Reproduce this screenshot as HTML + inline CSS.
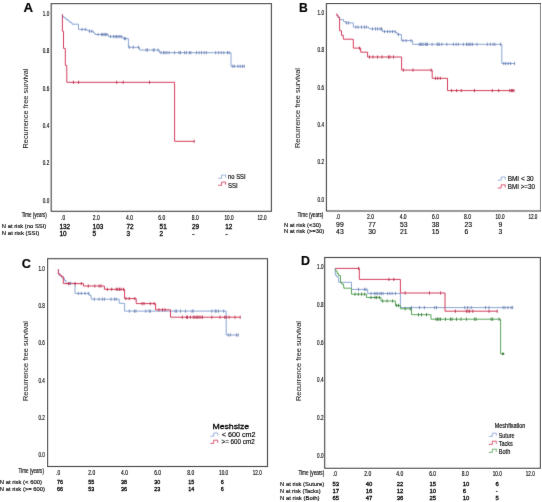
<!DOCTYPE html>
<html><head><meta charset="utf-8"><title>Kaplan-Meier curves</title>
<style>
html,body{margin:0;padding:0;background:#fff;}
body{width:542px;height:502px;overflow:hidden;}
text{stroke:#000;stroke-width:0.16px;}
text.n{stroke-width:0.3px;}
text.m{stroke-width:0.12px;}
text.t{stroke:none;}
svg{display:block;font-family:"Liberation Sans",sans-serif;}
</style></head><body>
<svg width="542" height="502" viewBox="0 0 542 502">
<defs><filter id="bl" x="0" y="0" width="100%" height="100%" color-interpolation-filters="sRGB"><feConvolveMatrix order="3" kernelMatrix="1 9 1 9 81 9 1 9 1" divisor="121" edgeMode="none"/></filter>
<filter id="bt" x="0" y="0" width="100%" height="100%" color-interpolation-filters="sRGB"><feConvolveMatrix order="3" kernelMatrix="1 14 1 14 196 14 1 14 1" divisor="256" edgeMode="none"/></filter></defs>
<rect width="542" height="502" fill="#fff"/>
<g fill="none" filter="url(#bl)">
<rect x="51.2" y="3.6" width="220.2" height="207.7" fill="none" stroke="#3c3c3c" stroke-width="1.05"/>
<path d="M62.4,14.3V16.5H64V18H66V19.5H68V21H70V22.6H72V24.2H78.5V29.4H87V30.4H88.5V31.2H93.5V32.9H95V34.5H108.3V36.6H122.9V38.6H128.4V47.3H139.5V50.0H159.4V52.7H231V66.3H244.3" stroke="#8ba4d4" stroke-width="1.0" fill="none"/>
<path d="M62.4,14.3V31.2H63.5V48.4H65.3V65.4H66.8V82.3H174.6V141.3H194.2" stroke="#d43d5c" stroke-width="1.0" fill="none"/>
<path d="M82,27.8V31.0 M85.3,27.8V31.0 M89.5,29.6V32.8 M91.8,29.6V32.8 M98.1,32.9V36.1 M101.4,32.9V36.1 M102.8,32.9V36.1 M104.1,32.9V36.1 M105.5,32.9V36.1 M106.9,32.9V36.1 M110.6,35.0V38.2 M113.4,35.0V38.2 M115.2,35.0V38.2 M116.6,35.0V38.2 M118,35.0V38.2 M119.8,35.0V38.2 M121.2,35.0V38.2 M124.4,37.0V40.2 M125.6,37.0V40.2 M129.3,45.7V48.9 M133.2,45.7V48.9 M138.4,45.7V48.9 M146.1,48.4V51.6 M147.6,48.4V51.6 M153.2,48.4V51.6 M154.3,48.4V51.6 M158,48.4V51.6 M161,51.1V54.3 M163.5,51.1V54.3 M165,51.1V54.3 M166.9,51.1V54.3 M169.1,51.1V54.3 M174.6,51.1V54.3 M179,51.1V54.3 M180.5,51.1V54.3 M184.6,51.1V54.3 M186.4,51.1V54.3 M189.4,51.1V54.3 M190.8,51.1V54.3 M196.5,51.1V54.3 M199.1,51.1V54.3 M201.6,51.1V54.3 M204.2,51.1V54.3 M206.4,51.1V54.3 M215.7,51.1V54.3 M218.6,51.1V54.3 M221.2,51.1V54.3 M223.8,51.1V54.3 M227.5,51.1V54.3 M229,51.1V54.3 M232.8,64.7V67.9 M234.3,64.7V67.9 M238,64.7V67.9 M240.2,64.7V67.9 M242.4,64.7V67.9 M244.3,64.7V67.9" stroke="#6f85b5" stroke-width="0.9" fill="none"/>
<path d="M73.4,80.7V83.9 M78.6,80.7V83.9 M116.7,80.7V83.9 M123.2,80.7V83.9 M149.5,80.7V83.9 M194.2,139.7V142.9" stroke="#b8304e" stroke-width="0.9" fill="none"/>
<path d="M218.2,178.3H221.6V175.1H225.6V177.7" stroke="#8ba4d4" stroke-width="0.85" fill="none"/>
<path d="M218.2,185.3H221.6V182.1H225.6V184.7" stroke="#d43d5c" stroke-width="0.85" fill="none"/>
<rect x="326.4" y="3.5" width="214.5" height="207.5" fill="none" stroke="#3c3c3c" stroke-width="1.05"/>
<path d="M336.9,14.6V15.5H338V17H339.5V19.6H343.5V21.5H345.5V22.9H353.3V27.1H368.7V28.3H370.1V28.9H382.4V31.6H395.7V32.7H397.2V34.5H401.4V40.6H412.7V44.3H501.8V63.5H514.6" stroke="#8ba4d4" stroke-width="1.0" fill="none"/>
<path d="M336.9,13.4V15.5H338V17.5H339.6V30.8H341.5V35.3H343.3V39.2H353.3V48.1H360.7V52.2H367.6V57H401.6V70.1H432.2V78.3H447.5V90.6H514" stroke="#d43d5c" stroke-width="1.0" fill="none"/>
<path d="M346.6,21.3V24.5 M348.6,21.3V24.5 M355.9,25.5V28.7 M358.1,25.5V28.7 M361.5,25.5V28.7 M364.4,25.5V28.7 M366.3,25.5V28.7 M372.5,27.3V30.5 M375.5,27.3V30.5 M377.5,27.3V30.5 M380,27.3V30.5 M381.5,27.3V30.5 M384.5,30.0V33.2 M387.5,30.0V33.2 M390,30.0V33.2 M392.5,30.0V33.2 M395,30.0V33.2 M398.5,32.9V36.1 M403,39.0V42.2 M406,39.0V42.2 M411,39.0V42.2 M419.2,42.7V45.9 M420.6,42.7V45.9 M421.8,42.7V45.9 M423.1,42.7V45.9 M425.2,42.7V45.9 M426.4,42.7V45.9 M427.5,42.7V45.9 M432.1,42.7V45.9 M437.2,42.7V45.9 M438.1,42.7V45.9 M439.3,42.7V45.9 M441.8,42.7V45.9 M446.9,42.7V45.9 M453.4,42.7V45.9 M456.1,42.7V45.9 M458.3,42.7V45.9 M463.4,42.7V45.9 M466.5,42.7V45.9 M468,42.7V45.9 M469.3,42.7V45.9 M470.9,42.7V45.9 M472.6,42.7V45.9 M476.9,42.7V45.9 M487.3,42.7V45.9 M490.3,42.7V45.9 M493.1,42.7V45.9 M494.9,42.7V45.9 M500.6,42.7V45.9 M503.8,61.9V65.1 M505.8,61.9V65.1 M508.2,61.9V65.1 M510.6,61.9V65.1 M514.6,61.9V65.1" stroke="#6f85b5" stroke-width="0.9" fill="none"/>
<path d="M359.5,46.5V49.7 M369.5,55.4V58.6 M373,55.4V58.6 M377.5,55.4V58.6 M382,55.4V58.6 M388.5,55.4V58.6 M390,55.4V58.6 M393.5,55.4V58.6 M403.4,68.5V71.7 M413,68.5V71.7 M431.1,68.5V71.7 M435.5,76.7V79.9 M437.7,76.7V79.9 M440.3,76.7V79.9 M451.6,89.0V92.2 M456.6,89.0V92.2 M461.3,89.0V92.2 M474.5,89.0V92.2 M492.3,89.0V92.2 M498.7,89.0V92.2 M509.8,89.0V92.2 M511.4,89.0V92.2 M512.7,89.0V92.2 M514,89.0V92.2" stroke="#b8304e" stroke-width="0.9" fill="none"/>
<path d="M497.8,180.2H501.2V177.0H505.2V179.6" stroke="#8ba4d4" stroke-width="0.85" fill="none"/>
<path d="M497.8,188.0H501.2V184.8H505.2V187.4" stroke="#d43d5c" stroke-width="0.85" fill="none"/>
<rect x="47.6" y="258.7" width="219.9" height="207.8" fill="none" stroke="#3c3c3c" stroke-width="1.05"/>
<path d="M58.4,269.2V273.5H60V276H62V278.2H64.5V280.5H66V283.3H75V293.4H89.4V295.5H91.2V299.2H119.2V303.3H124.6V311.1H226.2V335H238.5" stroke="#8ba4d4" stroke-width="1.0" fill="none"/>
<path d="M58.4,269.2V274.3H60V275.5H61.5V276.6H63.3V283.6H83.5V286.0H104.4V289.3H124.6V298.6H136.2V303.6H155.6V309.8H170.5V317.2H240.2" stroke="#d43d5c" stroke-width="1.0" fill="none"/>
<path d="M68.4,282.0V285.2 M69.9,282.0V285.2 M75.2,282.0V285.2 M81.3,282.0V285.2 M88.3,284.4V287.6 M94.8,284.4V287.6 M99.2,284.4V287.6 M101,284.4V287.6 M107.3,287.7V290.9 M111.7,287.7V290.9 M116.3,287.7V290.9 M117.8,287.7V290.9 M119.5,287.7V290.9 M121,287.7V290.9 M123.5,287.7V290.9 M125.9,297.0V300.2 M129.2,297.0V300.2 M134.8,297.0V300.2 M142.1,302.0V305.2 M144,302.0V305.2 M150.3,302.0V305.2 M154.1,302.0V305.2 M158.9,308.2V311.4 M162.5,308.2V311.4 M165,308.2V311.4 M182.3,315.6V318.8 M186.5,315.6V318.8 M187.5,315.6V318.8 M190.4,315.6V318.8 M193.2,315.6V318.8 M194.7,315.6V318.8 M196.3,315.6V318.8 M197.8,315.6V318.8 M199.1,315.6V318.8 M200.9,315.6V318.8 M202.5,315.6V318.8 M211.8,315.6V318.8 M220,315.6V318.8 M224.7,315.6V318.8 M226.2,315.6V318.8 M229.1,315.6V318.8 M235,315.6V318.8 M240.2,315.6V318.8" stroke="#b8304e" stroke-width="0.9" fill="none"/>
<path d="M70.5,281.7V284.9 M78.4,291.8V295.0 M81.3,291.8V295.0 M85,291.8V295.0 M88.3,291.8V295.0 M94.3,297.6V300.8 M99,297.6V300.8 M102.4,297.6V300.8 M104.4,297.6V300.8 M111,297.6V300.8 M114.6,297.6V300.8 M116.3,297.6V300.8 M129.4,309.5V312.7 M134.4,309.5V312.7 M135.9,309.5V312.7 M145.8,309.5V312.7 M149.2,309.5V312.7 M150.3,309.5V312.7 M175.1,309.5V312.7 M176.6,309.5V312.7 M180.5,309.5V312.7 M185.4,309.5V312.7 M192.1,309.5V312.7 M193.2,309.5V312.7 M211.8,309.5V312.7 M215.2,309.5V312.7 M216.2,309.5V312.7 M218.5,309.5V312.7 M223.7,309.5V312.7 M228.2,333.4V336.6 M230.3,333.4V336.6 M236.5,333.4V336.6 M238.2,333.4V336.6" stroke="#6f85b5" stroke-width="0.9" fill="none"/>
<path d="M210.3,436.2H213.7V433.0H217.7V435.6" stroke="#8ba4d4" stroke-width="0.85" fill="none"/>
<path d="M210.3,443.4H213.7V440.2H217.7V442.8" stroke="#d43d5c" stroke-width="0.85" fill="none"/>
<rect x="324.7" y="257.5" width="215.7" height="210.8" fill="none" stroke="#3c3c3c" stroke-width="1.05"/>
<path d="M335.3,268.4V275.2H336.8V277H338.7V282.3H351.5V289.4H367.7V293.5H400.4V307.6H513" stroke="#8ba4d4" stroke-width="1.0" fill="none"/>
<path d="M335.3,268.4V270.8H337.1V273.5H338.5V275.5H340.5V282.3H341.6V284H343.5V286H343.8V288.2H351.5V294.2H366.6V297.5H381V301H395.4V305.5H400.4V308.8H411.5V314.7H431V319.2H500.6V353.8H502.8" stroke="#5aa55a" stroke-width="1.0" fill="none"/>
<path d="M335.3,268.4H359.3V279.4H400.4V293H445V311.2H497.2" stroke="#d43d5c" stroke-width="1.0" fill="none"/>
<rect x="501.9" y="352.7" width="2.3" height="2.2" fill="#3a7d3a"/>
<path d="M358.6,266.8V270.0 M388.9,277.8V281.0 M393.8,277.8V281.0 M405.2,291.4V294.6 M429.5,291.4V294.6 M440.6,291.4V294.6 M455.4,309.6V312.8 M466.4,309.6V312.8 M468,309.6V312.8 M469.6,309.6V312.8 M472.8,309.6V312.8 M489,309.6V312.8 M497.2,309.6V312.8" stroke="#b8304e" stroke-width="0.9" fill="none"/>
<path d="M358.5,287.8V291.0 M364.4,287.8V291.0 M366,287.8V291.0 M371,291.9V295.1 M374.3,291.9V295.1 M376,291.9V295.1 M377.7,291.9V295.1 M379.9,291.9V295.1 M381.5,291.9V295.1 M383.2,291.9V295.1 M387.6,291.9V295.1 M389.8,291.9V295.1 M392.1,291.9V295.1 M395.4,291.9V295.1 M411.5,306.0V309.2 M419.5,306.0V309.2 M424.4,306.0V309.2 M434.7,306.0V309.2 M436.5,306.0V309.2 M464.8,306.0V309.2 M467.7,306.0V309.2 M471.2,306.0V309.2 M485.5,306.0V309.2 M489,306.0V309.2 M503.1,306.0V309.2 M505,306.0V309.2 M507.9,306.0V309.2 M511.1,306.0V309.2 M512.7,306.0V309.2" stroke="#6f85b5" stroke-width="0.9" fill="none"/>
<path d="M355,292.6V295.8 M358.3,292.6V295.8 M361.6,292.6V295.8 M364.7,292.6V295.8 M371,295.9V299.1 M374.9,295.9V299.1 M376.6,295.9V299.1 M379.3,295.9V299.1 M382.7,299.4V302.6 M387.1,299.4V302.6 M392.6,299.4V302.6 M396.5,303.9V307.1 M398.5,303.9V307.1 M405.2,307.2V310.4 M410.3,307.2V310.4 M418.5,313.1V316.3 M421.5,313.1V316.3 M426.5,313.1V316.3 M436,317.6V320.8 M437.5,317.6V320.8 M439,317.6V320.8 M440.5,317.6V320.8 M445.5,317.6V320.8 M450.5,317.6V320.8 M452,317.6V320.8 M456.5,317.6V320.8 M461,317.6V320.8 M466.4,317.6V320.8 M474.7,317.6V320.8 M476,317.6V320.8 M491.1,317.6V320.8 M492.7,317.6V320.8 M499.1,317.6V320.8" stroke="#3a7d3a" stroke-width="0.9" fill="none"/>
<path d="M488.9,436.4H492.3V433.2H496.3V435.8" stroke="#8ba4d4" stroke-width="0.85" fill="none"/>
<path d="M488.9,444.4H492.3V441.2H496.3V443.8" stroke="#d43d5c" stroke-width="0.85" fill="none"/>
<path d="M488.9,452.4H492.3V449.2H496.3V451.8" stroke="#5aa55a" stroke-width="0.85" fill="none"/>
</g>
<g fill="#000" filter="url(#bt)">
<text x="23.6" y="12.3" font-size="13.4" textLength="9.6" lengthAdjust="spacingAndGlyphs" font-weight="bold">A</text>
<text x="49.2" y="15.9" font-size="7.0" text-anchor="end" textLength="6.4" lengthAdjust="spacingAndGlyphs">1.0</text>
<text x="49.2" y="53.26" font-size="7.0" text-anchor="end" textLength="6.4" lengthAdjust="spacingAndGlyphs">0.8</text>
<text x="49.2" y="90.62" font-size="7.0" text-anchor="end" textLength="6.4" lengthAdjust="spacingAndGlyphs">0.6</text>
<text x="49.2" y="127.98" font-size="7.0" text-anchor="end" textLength="6.4" lengthAdjust="spacingAndGlyphs">0.4</text>
<text x="49.2" y="165.34" font-size="7.0" text-anchor="end" textLength="6.4" lengthAdjust="spacingAndGlyphs">0.2</text>
<text x="49.2" y="202.7" font-size="7.0" text-anchor="end" textLength="6.4" lengthAdjust="spacingAndGlyphs">0.0</text>
<text class="t" x="0" y="0" font-size="7.4" text-anchor="middle" textLength="80" lengthAdjust="spacingAndGlyphs" transform="translate(28.2,108.5) rotate(-90)">Recurrence free survival</text>
<text x="63.1" y="219.9" font-size="6.8" text-anchor="middle" textLength="4.0" lengthAdjust="spacingAndGlyphs">.0</text>
<text x="96.3" y="219.9" font-size="6.8" text-anchor="middle" textLength="6.9" lengthAdjust="spacingAndGlyphs">2.0</text>
<text x="129.5" y="219.9" font-size="6.8" text-anchor="middle" textLength="6.9" lengthAdjust="spacingAndGlyphs">4.0</text>
<text x="161.8" y="219.9" font-size="6.8" text-anchor="middle" textLength="6.9" lengthAdjust="spacingAndGlyphs">6.0</text>
<text x="195.3" y="219.9" font-size="6.8" text-anchor="middle" textLength="6.9" lengthAdjust="spacingAndGlyphs">8.0</text>
<text x="229" y="219.9" font-size="6.8" text-anchor="middle" textLength="9.0" lengthAdjust="spacingAndGlyphs">10.0</text>
<text x="262" y="219.9" font-size="6.8" text-anchor="middle" textLength="9.0" lengthAdjust="spacingAndGlyphs">12.0</text>
<text x="46.8" y="217.2" font-size="6.8" text-anchor="end" textLength="25" lengthAdjust="spacingAndGlyphs">Time (years)</text>
<text x="1.8" y="227.9" font-size="6.2" textLength="44.5" lengthAdjust="spacingAndGlyphs">N at risk (no SSI)</text>
<text x="1.8" y="234.9" font-size="6.2" textLength="37.5" lengthAdjust="spacingAndGlyphs">N at risk (SSI)</text>
<text x="59.5" y="228.6" font-size="6.5" class="n" textLength="10.65" lengthAdjust="spacingAndGlyphs">132</text>
<text x="92.6" y="228.6" font-size="6.5" class="n" textLength="10.65" lengthAdjust="spacingAndGlyphs">103</text>
<text x="126.4" y="228.6" font-size="6.5" class="n" textLength="7.1" lengthAdjust="spacingAndGlyphs">72</text>
<text x="159.6" y="228.6" font-size="6.5" class="n" textLength="7.1" lengthAdjust="spacingAndGlyphs">51</text>
<text x="192" y="228.6" font-size="6.5" class="n" textLength="7.1" lengthAdjust="spacingAndGlyphs">29</text>
<text x="225.2" y="228.6" font-size="6.5" class="n" textLength="7.1" lengthAdjust="spacingAndGlyphs">12</text>
<text x="59.5" y="235.6" font-size="6.5" class="n" textLength="7.1" lengthAdjust="spacingAndGlyphs">10</text>
<text x="92.6" y="235.6" font-size="6.5" class="n" textLength="3.55" lengthAdjust="spacingAndGlyphs">5</text>
<text x="126.4" y="235.6" font-size="6.5" class="n" textLength="3.55" lengthAdjust="spacingAndGlyphs">3</text>
<text x="159.6" y="235.6" font-size="6.5" class="n" textLength="3.55" lengthAdjust="spacingAndGlyphs">2</text>
<text x="192.3" y="235.6" font-size="6.5" class="n">-</text>
<text x="225.5" y="235.6" font-size="6.5" class="n">-</text>
<text x="228" y="178.9" font-size="7.2" textLength="17.6" lengthAdjust="spacingAndGlyphs">no SSI</text>
<text x="228" y="188.4" font-size="7.2" textLength="9.6" lengthAdjust="spacingAndGlyphs">SSI</text>
<text x="299.0" y="11.8" font-size="13.0" textLength="8.8" lengthAdjust="spacingAndGlyphs" font-weight="bold">B</text>
<text x="324.0" y="15.0" font-size="7.0" text-anchor="end" textLength="6.4" lengthAdjust="spacingAndGlyphs">1.0</text>
<text x="324.0" y="52.35" font-size="7.0" text-anchor="end" textLength="6.4" lengthAdjust="spacingAndGlyphs">0.8</text>
<text x="324.0" y="89.7" font-size="7.0" text-anchor="end" textLength="6.4" lengthAdjust="spacingAndGlyphs">0.6</text>
<text x="324.0" y="127.05" font-size="7.0" text-anchor="end" textLength="6.4" lengthAdjust="spacingAndGlyphs">0.4</text>
<text x="324.0" y="164.4" font-size="7.0" text-anchor="end" textLength="6.4" lengthAdjust="spacingAndGlyphs">0.2</text>
<text x="324.0" y="201.75" font-size="7.0" text-anchor="end" textLength="6.4" lengthAdjust="spacingAndGlyphs">0.0</text>
<text class="t" x="0" y="0" font-size="7.4" text-anchor="middle" textLength="80" lengthAdjust="spacingAndGlyphs" transform="translate(300.2,108) rotate(-90)">Recurrence free survival</text>
<text x="337.8" y="218.6" font-size="6.8" text-anchor="middle" textLength="4.0" lengthAdjust="spacingAndGlyphs">.0</text>
<text x="370.5" y="218.6" font-size="6.8" text-anchor="middle" textLength="6.9" lengthAdjust="spacingAndGlyphs">2.0</text>
<text x="403.1" y="218.6" font-size="6.8" text-anchor="middle" textLength="6.9" lengthAdjust="spacingAndGlyphs">4.0</text>
<text x="435.5" y="218.6" font-size="6.8" text-anchor="middle" textLength="6.9" lengthAdjust="spacingAndGlyphs">6.0</text>
<text x="467.5" y="218.6" font-size="6.8" text-anchor="middle" textLength="6.9" lengthAdjust="spacingAndGlyphs">8.0</text>
<text x="500" y="218.6" font-size="6.8" text-anchor="middle" textLength="9.0" lengthAdjust="spacingAndGlyphs">10.0</text>
<text x="532.9" y="218.6" font-size="6.8" text-anchor="middle" textLength="9.0" lengthAdjust="spacingAndGlyphs">12.0</text>
<text x="323.4" y="217.2" font-size="6.8" text-anchor="end" textLength="25.8" lengthAdjust="spacingAndGlyphs">Time (years)</text>
<text x="283.9" y="226.6" font-size="6.2" textLength="37" lengthAdjust="spacingAndGlyphs">N at risk (&lt;30)</text>
<text x="283.9" y="233.1" font-size="6.2" textLength="40.2" lengthAdjust="spacingAndGlyphs">N at risk (&gt;=30)</text>
<text x="336.1" y="226.9" font-size="6.3" class="m" textLength="7.6" lengthAdjust="spacingAndGlyphs">99</text>
<text x="368.2" y="226.9" font-size="6.3" class="m" textLength="7.6" lengthAdjust="spacingAndGlyphs">77</text>
<text x="400" y="226.9" font-size="6.3" class="m" textLength="7.6" lengthAdjust="spacingAndGlyphs">53</text>
<text x="431.8" y="226.9" font-size="6.3" class="m" textLength="7.6" lengthAdjust="spacingAndGlyphs">38</text>
<text x="464.5" y="226.9" font-size="6.3" class="m" textLength="7.6" lengthAdjust="spacingAndGlyphs">23</text>
<text x="498.6" y="226.9" font-size="6.3" class="m" textLength="3.8" lengthAdjust="spacingAndGlyphs">9</text>
<text x="336.1" y="233.8" font-size="6.3" class="m" textLength="7.6" lengthAdjust="spacingAndGlyphs">43</text>
<text x="368.2" y="233.8" font-size="6.3" class="m" textLength="7.6" lengthAdjust="spacingAndGlyphs">30</text>
<text x="400" y="233.8" font-size="6.3" class="m" textLength="7.6" lengthAdjust="spacingAndGlyphs">21</text>
<text x="431.8" y="233.8" font-size="6.3" class="m" textLength="7.6" lengthAdjust="spacingAndGlyphs">15</text>
<text x="464.5" y="233.8" font-size="6.3" class="m" textLength="3.8" lengthAdjust="spacingAndGlyphs">6</text>
<text x="498.6" y="233.8" font-size="6.3" class="m" textLength="3.8" lengthAdjust="spacingAndGlyphs">3</text>
<text x="507.7" y="181.0" font-size="7.2" textLength="26" lengthAdjust="spacingAndGlyphs">BMI &lt; 30</text>
<text x="507.7" y="189.4" font-size="7.2" textLength="27.3" lengthAdjust="spacingAndGlyphs">BMI &gt;=30</text>
<text x="21.8" y="267.9" font-size="13.0" textLength="9.2" lengthAdjust="spacingAndGlyphs" font-weight="bold">C</text>
<text x="44.8" y="270.5" font-size="7.0" text-anchor="end" textLength="6.4" lengthAdjust="spacingAndGlyphs">1.0</text>
<text x="44.8" y="307.86" font-size="7.0" text-anchor="end" textLength="6.4" lengthAdjust="spacingAndGlyphs">0.8</text>
<text x="44.8" y="345.22" font-size="7.0" text-anchor="end" textLength="6.4" lengthAdjust="spacingAndGlyphs">0.6</text>
<text x="44.8" y="382.58" font-size="7.0" text-anchor="end" textLength="6.4" lengthAdjust="spacingAndGlyphs">0.4</text>
<text x="44.8" y="419.94" font-size="7.0" text-anchor="end" textLength="6.4" lengthAdjust="spacingAndGlyphs">0.2</text>
<text x="44.8" y="457.3" font-size="7.0" text-anchor="end" textLength="6.4" lengthAdjust="spacingAndGlyphs">0.0</text>
<text class="t" x="0" y="0" font-size="7.4" text-anchor="middle" textLength="80" lengthAdjust="spacingAndGlyphs" transform="translate(28.2,361) rotate(-90)">Recurrence free survival</text>
<text x="58.1" y="474.7" font-size="6.8" text-anchor="middle" textLength="4.0" lengthAdjust="spacingAndGlyphs">.0</text>
<text x="91.8" y="474.7" font-size="6.8" text-anchor="middle" textLength="6.9" lengthAdjust="spacingAndGlyphs">2.0</text>
<text x="124.5" y="474.7" font-size="6.8" text-anchor="middle" textLength="6.9" lengthAdjust="spacingAndGlyphs">4.0</text>
<text x="157.6" y="474.7" font-size="6.8" text-anchor="middle" textLength="6.9" lengthAdjust="spacingAndGlyphs">6.0</text>
<text x="190.8" y="474.7" font-size="6.8" text-anchor="middle" textLength="6.9" lengthAdjust="spacingAndGlyphs">8.0</text>
<text x="223.6" y="474.7" font-size="6.8" text-anchor="middle" textLength="9.0" lengthAdjust="spacingAndGlyphs">10.0</text>
<text x="257.3" y="474.7" font-size="6.8" text-anchor="middle" textLength="9.0" lengthAdjust="spacingAndGlyphs">12.0</text>
<text x="43.9" y="472.6" font-size="6.8" text-anchor="end" textLength="25.4" lengthAdjust="spacingAndGlyphs">Time (years)</text>
<text x="-0.2" y="483.8" font-size="6.2" textLength="42.2" lengthAdjust="spacingAndGlyphs">N at risk (&lt; 600)</text>
<text x="-0.2" y="491.2" font-size="6.2" textLength="45.2" lengthAdjust="spacingAndGlyphs">N at risk (&gt;= 600)</text>
<text x="56.9" y="483.9" font-size="6.1" class="n" textLength="6.0" lengthAdjust="spacingAndGlyphs">76</text>
<text x="88.3" y="483.9" font-size="6.1" class="n" textLength="6.0" lengthAdjust="spacingAndGlyphs">55</text>
<text x="121.1" y="483.9" font-size="6.1" class="n" textLength="6.0" lengthAdjust="spacingAndGlyphs">38</text>
<text x="154.3" y="483.9" font-size="6.1" class="n" textLength="6.0" lengthAdjust="spacingAndGlyphs">30</text>
<text x="188.3" y="483.9" font-size="6.1" class="n" textLength="6.0" lengthAdjust="spacingAndGlyphs">15</text>
<text x="220.7" y="483.9" font-size="6.1" class="n" textLength="3.0" lengthAdjust="spacingAndGlyphs">6</text>
<text x="56.9" y="491.3" font-size="6.1" class="n" textLength="6.0" lengthAdjust="spacingAndGlyphs">66</text>
<text x="88.3" y="491.3" font-size="6.1" class="n" textLength="6.0" lengthAdjust="spacingAndGlyphs">53</text>
<text x="121.1" y="491.3" font-size="6.1" class="n" textLength="6.0" lengthAdjust="spacingAndGlyphs">36</text>
<text x="154.3" y="491.3" font-size="6.1" class="n" textLength="6.0" lengthAdjust="spacingAndGlyphs">23</text>
<text x="188.3" y="491.3" font-size="6.1" class="n" textLength="6.0" lengthAdjust="spacingAndGlyphs">14</text>
<text x="220.7" y="491.3" font-size="6.1" class="n" textLength="3.0" lengthAdjust="spacingAndGlyphs">6</text>
<text x="212.4" y="429.3" font-size="8.0" class="n" textLength="36.8" lengthAdjust="spacingAndGlyphs">Meshsize</text>
<text x="221.8" y="437.2" font-size="7.2" textLength="33.8" lengthAdjust="spacingAndGlyphs">&lt; 600 cm2</text>
<text x="221.5" y="444.3" font-size="7.2" textLength="33.2" lengthAdjust="spacingAndGlyphs">&gt;= 600 cm2</text>
<text x="301.0" y="265.0" font-size="13.0" textLength="9.0" lengthAdjust="spacingAndGlyphs" font-weight="bold">D</text>
<text x="323.5" y="268.7" font-size="7.0" text-anchor="end" textLength="6.4" lengthAdjust="spacingAndGlyphs">1.0</text>
<text x="323.5" y="306.6" font-size="7.0" text-anchor="end" textLength="6.4" lengthAdjust="spacingAndGlyphs">0.8</text>
<text x="323.5" y="344.5" font-size="7.0" text-anchor="end" textLength="6.4" lengthAdjust="spacingAndGlyphs">0.6</text>
<text x="323.5" y="382.4" font-size="7.0" text-anchor="end" textLength="6.4" lengthAdjust="spacingAndGlyphs">0.4</text>
<text x="323.5" y="420.3" font-size="7.0" text-anchor="end" textLength="6.4" lengthAdjust="spacingAndGlyphs">0.2</text>
<text x="323.5" y="458.2" font-size="7.0" text-anchor="end" textLength="6.4" lengthAdjust="spacingAndGlyphs">0.0</text>
<text class="t" x="0" y="0" font-size="7.4" text-anchor="middle" textLength="80" lengthAdjust="spacingAndGlyphs" transform="translate(300.6,361) rotate(-90)">Recurrence free survival</text>
<text x="334.8" y="476.0" font-size="6.8" text-anchor="middle" textLength="4.0" lengthAdjust="spacingAndGlyphs">.0</text>
<text x="367.8" y="476.0" font-size="6.8" text-anchor="middle" textLength="6.9" lengthAdjust="spacingAndGlyphs">2.0</text>
<text x="399.7" y="476.0" font-size="6.8" text-anchor="middle" textLength="6.9" lengthAdjust="spacingAndGlyphs">4.0</text>
<text x="432.6" y="476.0" font-size="6.8" text-anchor="middle" textLength="6.9" lengthAdjust="spacingAndGlyphs">6.0</text>
<text x="465.3" y="476.0" font-size="6.8" text-anchor="middle" textLength="6.9" lengthAdjust="spacingAndGlyphs">8.0</text>
<text x="497.3" y="476.0" font-size="6.8" text-anchor="middle" textLength="9.0" lengthAdjust="spacingAndGlyphs">10.0</text>
<text x="530.3" y="476.0" font-size="6.8" text-anchor="middle" textLength="9.0" lengthAdjust="spacingAndGlyphs">12.0</text>
<text x="324.2" y="474.9" font-size="6.8" text-anchor="end" textLength="25.8" lengthAdjust="spacingAndGlyphs">Time (years)</text>
<text x="280.1" y="485.8" font-size="6.2" textLength="44.1" lengthAdjust="spacingAndGlyphs">N at risk (Suture)</text>
<text x="280.1" y="492.5" font-size="6.2" textLength="40.5" lengthAdjust="spacingAndGlyphs">N at risk (Tacks)</text>
<text x="280.1" y="499.6" font-size="6.2" textLength="39.5" lengthAdjust="spacingAndGlyphs">N at risk (Both)</text>
<text x="332.5" y="485.6" font-size="6.0" class="n" textLength="6.6" lengthAdjust="spacingAndGlyphs">53</text>
<text x="365.7" y="485.6" font-size="6.0" class="n" textLength="6.6" lengthAdjust="spacingAndGlyphs">40</text>
<text x="396.8" y="485.6" font-size="6.0" class="n" textLength="6.6" lengthAdjust="spacingAndGlyphs">22</text>
<text x="429.5" y="485.6" font-size="6.0" class="n" textLength="6.6" lengthAdjust="spacingAndGlyphs">15</text>
<text x="462.8" y="485.6" font-size="6.0" class="n" textLength="6.6" lengthAdjust="spacingAndGlyphs">10</text>
<text x="495.4" y="485.6" font-size="6.0" class="n" textLength="3.3" lengthAdjust="spacingAndGlyphs">6</text>
<text x="332.5" y="492.6" font-size="6.0" class="n" textLength="6.6" lengthAdjust="spacingAndGlyphs">17</text>
<text x="365.7" y="492.6" font-size="6.0" class="n" textLength="6.6" lengthAdjust="spacingAndGlyphs">16</text>
<text x="396.8" y="492.6" font-size="6.0" class="n" textLength="6.6" lengthAdjust="spacingAndGlyphs">12</text>
<text x="429.5" y="492.6" font-size="6.0" class="n" textLength="6.6" lengthAdjust="spacingAndGlyphs">10</text>
<text x="462.8" y="492.6" font-size="6.0" class="n" textLength="3.3" lengthAdjust="spacingAndGlyphs">6</text>
<text x="495.7" y="492.6" font-size="6.0" class="n">-</text>
<text x="332.5" y="499.6" font-size="6.0" class="n" textLength="6.6" lengthAdjust="spacingAndGlyphs">65</text>
<text x="365.7" y="499.6" font-size="6.0" class="n" textLength="6.6" lengthAdjust="spacingAndGlyphs">47</text>
<text x="396.8" y="499.6" font-size="6.0" class="n" textLength="6.6" lengthAdjust="spacingAndGlyphs">36</text>
<text x="429.5" y="499.6" font-size="6.0" class="n" textLength="6.6" lengthAdjust="spacingAndGlyphs">25</text>
<text x="462.8" y="499.6" font-size="6.0" class="n" textLength="6.6" lengthAdjust="spacingAndGlyphs">10</text>
<text x="495.4" y="499.6" font-size="6.0" class="n" textLength="3.3" lengthAdjust="spacingAndGlyphs">5</text>
<text x="494.8" y="428.4" font-size="6.8" textLength="30.6" lengthAdjust="spacingAndGlyphs">Meshfixation</text>
<text x="498.7" y="437.6" font-size="7.2" textLength="15.9" lengthAdjust="spacingAndGlyphs">Suture</text>
<text x="498.7" y="446.2" font-size="7.2" textLength="14.2" lengthAdjust="spacingAndGlyphs">Tacks</text>
<text x="498.7" y="454.4" font-size="7.2" textLength="11.6" lengthAdjust="spacingAndGlyphs">Both</text>
</g>
</svg>
</body></html>
